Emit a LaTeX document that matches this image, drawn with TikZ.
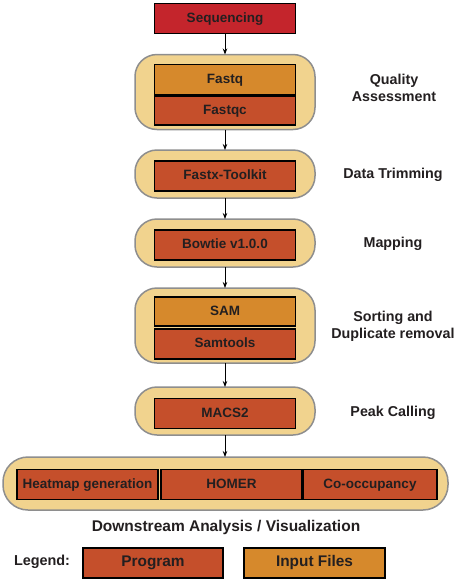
\documentclass[tikz,border=0pt]{standalone}
\usepackage{fontspec}
\setmainfont{Liberation Sans}
\usetikzlibrary{arrows.meta}
\definecolor{seqred}{HTML}{C4252C}
\definecolor{prog}{HTML}{C54F2B}
\definecolor{inputc}{HTML}{D6892C}
\definecolor{grp}{HTML}{F1D38E}
\definecolor{grpborder}{HTML}{8E8E8E}
\definecolor{txt}{HTML}{231F20}
\begin{document}
\begin{tikzpicture}[x=1pt,y=-1pt,
 grpbox/.style={draw=grpborder,fill=grp,line width=1.5pt,rounded corners=22pt,inner sep=0pt,outer sep=0pt},
 progbox/.style={draw=black,fill=prog,line width=1.6pt,inner sep=0pt,outer sep=0pt,font=\bfseries\fontsize{13.5}{15}\selectfont,text=txt,minimum height=30pt,text height=9.8pt,text depth=2.8pt},
 inbox/.style={progbox,fill=inputc},
 steplabel/.style={font=\bfseries\fontsize{14.3}{17}\selectfont,text=txt,align=center},
 flow/.style={-{Stealth[length=6pt,width=4.5pt]},line width=0.9pt,black}]
\useasboundingbox (0,0) rectangle (456,579);

% top
\node[progbox,fill=seqred,minimum width=141pt,minimum height=30pt] (seq) at (225,18.5) {Sequencing};

% group 1
\node[grpbox,minimum width=180pt,minimum height=75pt] (g1) at (225,92) {};
\node[inbox,minimum width=141pt,minimum height=30pt] (fastq) at (225,79.5) {Fastq};
\node[progbox,minimum width=141pt,minimum height=29pt] (fastqc) at (225,110.5) {Fastqc};
\node[steplabel] (l1) at (394,87.5) {Quality\\Assessment};

% group 2
\node[grpbox,minimum width=180pt,minimum height=48pt] (g2) at (225,174) {};
\node[progbox,minimum width=141pt] (fastx) at (225,176) {Fastx-Toolkit};
\node[steplabel] (l2) at (393,175) {Data Trimming};

% group 3
\node[grpbox,minimum width=180pt,minimum height=48pt] (g3) at (225,243) {};
\node[progbox,minimum width=141pt] (bowtie) at (225,245) {Bowtie v1.0.0};
\node[steplabel] (l3) at (393,244) {Mapping};

% group 4
\node[grpbox,minimum width=180pt,minimum height=75pt] (g4) at (225,325.5) {};
\node[inbox,minimum width=141pt,minimum height=29pt] (sam) at (225,311.5) {SAM};
\node[progbox,minimum width=141pt,minimum height=30pt] (samtools) at (225,344) {Samtools};
\node[steplabel] (l4) at (393,326) {Sorting and\\Duplicate removal};

% group 5
\node[grpbox,minimum width=180pt,minimum height=48pt] (g5) at (225,411) {};
\node[progbox,minimum width=141pt] (macs) at (225,413.5) {MACS2};
\node[steplabel] (l5) at (393,413) {Peak Calling};

% group 6
\node[grpbox,minimum width=445pt,minimum height=53pt,rounded corners=25pt] (g6) at (225.5,483.5) {};
\node[progbox,minimum width=141pt] (heat) at (87.5,484.5) {Heatmap generation};
\node[progbox,minimum width=141pt] (homer) at (231.5,484.5) {HOMER};
\node[progbox,minimum width=134pt] (cooc) at (370,484.5) {Co-occupancy};
\node[font=\bfseries\fontsize{15.5}{18}\selectfont,text=txt] (down) at (226,527) {Downstream Analysis / Visualization};

% legend
\node[font=\bfseries\fontsize{14.4}{17}\selectfont,text=txt] (leg) at (42,562) {Legend:};
\node[progbox,minimum width=140pt,font=\bfseries\fontsize{15.4}{18}\selectfont,text height=11pt,text depth=3.2pt] (lprog) at (153,563) {Program};
\node[inbox,minimum width=141pt,font=\bfseries\fontsize{15.4}{18}\selectfont,text height=11pt,text depth=3.2pt] (linput) at (314.5,563) {Input Files};

% arrows
\draw[flow] (seq.south) -- (g1.north);
\draw[flow] (g1.south) -- (g2.north);
\draw[flow] (g2.south) -- (g3.north);
\draw[flow] (g3.south) -- (g4.north);
\draw[flow] (g4.south) -- (g5.north);
\draw[flow] (g5.south) -- (g6.north -| g5.south);
\end{tikzpicture}
\end{document}
